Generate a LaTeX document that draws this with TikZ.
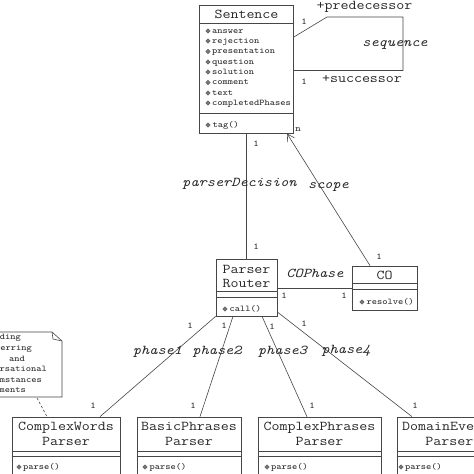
\documentclass[tikz,border=0pt]{standalone}
\usepackage{fontspec}
\setmonofont[FakeStretch=1.15]{Latin Modern Mono}
\usetikzlibrary{arrows.meta}
\definecolor{lc}{RGB}{70,70,70}
\definecolor{txt}{RGB}{40,40,40}
\definecolor{icon}{RGB}{120,120,120}
\begin{document}
\begin{tikzpicture}[x=1pt,y=-1pt,
  cls/.style={draw=lc, line width=0.7pt, inner sep=0pt, rectangle},
  conn/.style={draw=lc, line width=0.6pt},
  sep/.style={draw=lc, line width=0.6pt},
  nm/.style={font=\fontsize{13.5}{14}\selectfont\ttfamily, inner sep=0pt, text=txt, anchor=mid},
  lbl/.style={font=\fontsize{13.5}{14}\selectfont\ttfamily\itshape, inner sep=0pt, text=txt, anchor=mid},
  mult/.style={font=\fontsize{9}{9}\selectfont\ttfamily, inner sep=0pt, text=txt, anchor=mid},
  attr/.style={font=\fontsize{8.7}{9}\selectfont\ttfamily\bfseries, inner sep=0pt, text=txt, anchor=mid west},
  notetxt/.style={font=\fontsize{8.7}{9}\selectfont\ttfamily, inner sep=0pt, text=txt, anchor=mid east},
  ico/.style={fill=icon, draw=lc, line width=0.3pt, rotate=45, minimum size=3.2pt, inner sep=0pt, rectangle},
]
\useasboundingbox[fill=white] (0,0) rectangle (474,474);

% ---------- Sentence ----------
\node[cls, minimum width=94pt, minimum height=128pt] (sentence) at (246.5,69) {};
\draw[sep] (199.5,23) -- (293.5,23);
\draw[sep] (199.5,113) -- (293.5,113);
\node[nm] (sentT) at (246.5,16) {Sentence};
\foreach \t/\y [count=\i] in {answer/31,rejection/41,presentation/51.5,question/62,solution/72,comment/82.5,text/93,completedPhases/103}{
  \node[ico] (sai\i) at (208,\y) {};
  \node[attr] (sa\i) at (212,\y) {\t};
}
\node[ico] (soi) at (208,125) {};
\node[attr] (so) at (212.5,125) {tag()};

% self association
\coordinate (selfA) at (327,17);
\coordinate (selfB) at (403,17);
\coordinate (selfC) at (403,70.5);
\draw[conn] (sentence.east |- 0,37) -- (selfA) -- (selfB) -- (selfC) -- (sentence.east |- 0,70.5);
\node[mult] (m1) at (304,22) {1};
\node[mult] (m2) at (304,82) {1};
\node[nm] (pred) at (364.5,7) {+predecessor};
\node[nm] (succ) at (362,80) {+successor};
\node[lbl] (seq) at (395,44) {sequence};
\node[mult] (mn) at (298,129) {n};

% ---------- Parser Router ----------
\node[cls, minimum width=61pt, minimum height=57pt] (router) at (246.5,287.5) {};
\draw[sep] (router.west |- 0,291) -- (router.east |- 0,291);
\draw[sep] (router.west |- 0,297) -- (router.east |- 0,297);
\node[nm] (rt1) at (246.5,271) {Parser};
\node[nm] (rt2) at (246.5,285) {Router};
\node[ico] (roi) at (225,309) {};
\node[attr] (ro) at (229.5,309) {call()};

\draw[conn] (sentence.south) -- (router.north);
\node[mult] (m3) at (256,144) {1};
\node[mult] (m4) at (256,247) {1};
\node[lbl] (pdec) at (239.5,184) {parserDecision};

% ---------- CO ----------
\node[cls, minimum width=65pt, minimum height=44pt] (co) at (384.5,288) {};
\draw[sep] (co.west |- 0,283) -- (co.east |- 0,283);
\draw[sep] (co.west |- 0,289) -- (co.east |- 0,289);
\node[nm] (coT) at (384.5,277) {CO};
\node[ico] (coi) at (362,302) {};
\node[attr] (coo) at (366.5,302) {resolve()};

\draw[conn] (router.east |- 0,288) -- (co.west |- 0,288);
\node[lbl] (cophase) at (315,275) {COPhase};
\node[mult] (m5) at (284,296) {1};
\node[mult] (m6) at (344,296) {1};

\coordinate (scopeEnd) at (287,133.5);
\draw[conn, -{Straight Barb[length=7pt,width=8pt,line width=0.6pt]}] (co.north -| 370,0) -- (scopeEnd);
\node[lbl] (scope) at (328.5,186) {scope};
\node[mult] (m7) at (379,257) {1};

% ---------- Parsers ----------
\node[cls, minimum width=108pt, minimum height=83pt] (cw) at (66,458.5) {};
\node[cls, minimum width=104pt, minimum height=83pt] (bp) at (189,458.5) {};
\node[cls, minimum width=123pt, minimum height=83pt] (cp) at (319.5,458.5) {};
\node[cls, minimum width=108pt, minimum height=83pt] (de) at (451,458.5) {};
\foreach \n in {cw,bp,cp,de}{
  \draw[sep] (\n.west |- 0,451) -- (\n.east |- 0,451);
  \draw[sep] (\n.west |- 0,456) -- (\n.east |- 0,456);
}
\node[nm] (cwT1) at (66,428) {ComplexWords};
\node[nm] (cwT2) at (66,443) {Parser};
\node[nm] (bpT1) at (189,428) {BasicPhrases};
\node[nm] (bpT2) at (189,443) {Parser};
\node[nm] (cpT1) at (319.5,428) {ComplexPhrases};
\node[nm] (cpT2) at (319.5,443) {Parser};
\node[nm, anchor=mid west] (deT1) at (402,428) {DomainEve};
\node[nm, anchor=mid east] (deT2) at (473.5,443) {Parser};
\node[ico] (cwi) at (19,467) {};
\node[attr] (cwo) at (23,467) {parse()};
\node[ico] (bpi) at (145,467) {};
\node[attr] (bpo) at (149.5,467) {parse()};
\node[ico] (cpi) at (267,467) {};
\node[attr] (cpo) at (271,467) {parse()};
\node[ico] (dei) at (401,467) {};
\node[attr] (deo) at (405,467) {parse()};

% phase connectors
\draw[conn] (router.south west) -- (cw.north -| 100,0);
\draw[conn] (router.south -| 233,0) -- (bp.north -| 200,0);
\draw[conn] (router.south -| 262,0) -- (cp.north -| 307,0);
\draw[conn] (router.east |- 0,312) -- (de.north -| 412,0);
\node[lbl] (ph1) at (157.5,352) {phase1};
\node[lbl] (ph2) at (217,352) {phase2};
\node[lbl] (ph3) at (282.5,352) {phase3};
\node[lbl] (ph4) at (346,351) {phase4};
\node[mult] (m8) at (190,326) {1};
\node[mult] (m9) at (224,326) {1};
\node[mult] (m10) at (272,327) {1};
\node[mult] (m11) at (304,324) {1};
\node[mult] (m12) at (93,406) {1};
\node[mult] (m13) at (193,406) {1};
\node[mult] (m14) at (312,406) {1};
\node[mult] (m15) at (415,406) {1};

% ---------- Note ----------
\draw[conn, fill=white] (-10,332) -- (52,332) -- (62,341) -- (62,397) -- (-10,397) -- cycle;
\draw[conn] (52,332) -- (53,339) -- (62,341);
\node[notetxt] (n1) at (21,337) {ding};
\node[notetxt] (n2) at (32,348) {erring};
\node[notetxt] (n3) at (25,359) {and};
\node[notetxt] (n4) at (47,369) {rsational};
\node[notetxt] (n5) at (42,380) {mstances};
\node[notetxt] (n6) at (26,390) {ments};
\coordinate (noteEnd) at (37,398);
\draw[conn, dashed, dash pattern=on 2.5pt off 2pt] (noteEnd) -- (cw.north -| 47,0);
\end{tikzpicture}
\end{document}
